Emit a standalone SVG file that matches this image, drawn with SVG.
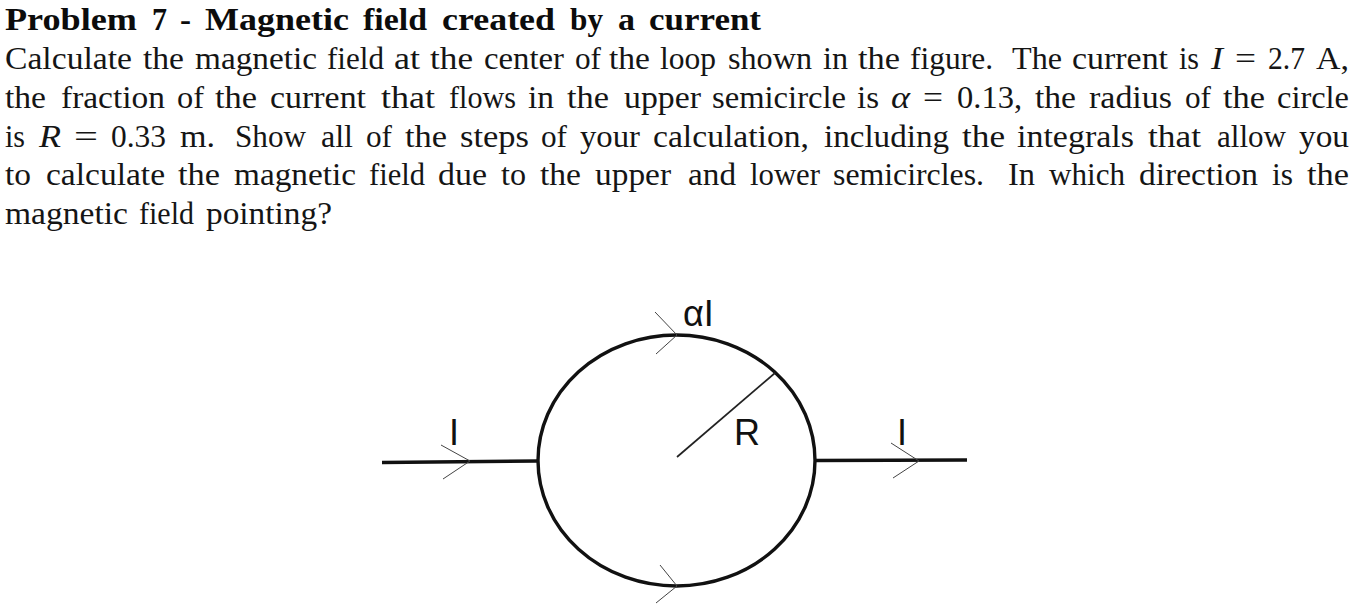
<svg xmlns="http://www.w3.org/2000/svg" width="1354" height="604" viewBox="0 0 1354 604">
<style>
.t{font-family:"Liberation Serif","Times New Roman",serif;font-size:32px;fill:#151515}
.b{font-weight:bold;fill:#0c0c0c}
.i{font-style:italic}
.l{font-family:"Liberation Sans",Arial,sans-serif;font-size:36px;fill:#111}
.w{fill:none;stroke:#111;stroke-width:3.4}
.r{fill:none;stroke:#222;stroke-width:1.7}
.a{fill:none;stroke:#444;stroke-width:1}
</style>
<rect width="1354" height="604" fill="#fff"/>
<g id="problem-text">
<text class="t b" y="30"><tspan x="5" textLength="132" lengthAdjust="spacingAndGlyphs">Problem</tspan> <tspan x="152" textLength="15" lengthAdjust="spacingAndGlyphs">7</tspan> <tspan x="180" textLength="11" lengthAdjust="spacingAndGlyphs">-</tspan> <tspan x="205" textLength="144" lengthAdjust="spacingAndGlyphs">Magnetic</tspan> <tspan x="363" textLength="64" lengthAdjust="spacingAndGlyphs">field</tspan> <tspan x="442" textLength="113" lengthAdjust="spacingAndGlyphs">created</tspan> <tspan x="570" textLength="33" lengthAdjust="spacingAndGlyphs">by</tspan> <tspan x="618" textLength="17" lengthAdjust="spacingAndGlyphs">a</tspan> <tspan x="649" textLength="112" lengthAdjust="spacingAndGlyphs">current</tspan></text>
<text class="t" y="69"><tspan x="5" textLength="127" lengthAdjust="spacingAndGlyphs">Calculate</tspan> <tspan x="143" textLength="41" lengthAdjust="spacingAndGlyphs">the</tspan> <tspan x="195" textLength="122" lengthAdjust="spacingAndGlyphs">magnetic</tspan> <tspan x="327" textLength="57" lengthAdjust="spacingAndGlyphs">field</tspan> <tspan x="394" textLength="26" lengthAdjust="spacingAndGlyphs">at</tspan> <tspan x="430" textLength="43" lengthAdjust="spacingAndGlyphs">the</tspan> <tspan x="484" textLength="80" lengthAdjust="spacingAndGlyphs">center</tspan> <tspan x="575" textLength="26" lengthAdjust="spacingAndGlyphs">of</tspan> <tspan x="609" textLength="41" lengthAdjust="spacingAndGlyphs">the</tspan> <tspan x="660" textLength="56" lengthAdjust="spacingAndGlyphs">loop</tspan> <tspan x="728" textLength="84" lengthAdjust="spacingAndGlyphs">shown</tspan> <tspan x="823" textLength="25" lengthAdjust="spacingAndGlyphs">in</tspan> <tspan x="858" textLength="42" lengthAdjust="spacingAndGlyphs">the</tspan> <tspan x="910" textLength="83" lengthAdjust="spacingAndGlyphs">figure.</tspan> <tspan x="1012" textLength="50" lengthAdjust="spacingAndGlyphs">The</tspan> <tspan x="1072" textLength="96" lengthAdjust="spacingAndGlyphs">current</tspan> <tspan x="1179" textLength="20" lengthAdjust="spacingAndGlyphs">is</tspan> <tspan class="i" x="1211" textLength="12" lengthAdjust="spacingAndGlyphs">I</tspan> <tspan x="1235" textLength="21" lengthAdjust="spacingAndGlyphs">=</tspan> <tspan x="1268" textLength="37" lengthAdjust="spacingAndGlyphs">2.7</tspan> <tspan x="1316" textLength="33" lengthAdjust="spacingAndGlyphs">A,</tspan></text>
<text class="t" y="108"><tspan x="5" textLength="41" lengthAdjust="spacingAndGlyphs">the</tspan> <tspan x="61" textLength="104" lengthAdjust="spacingAndGlyphs">fraction</tspan> <tspan x="177" textLength="27" lengthAdjust="spacingAndGlyphs">of</tspan> <tspan x="215" textLength="42" lengthAdjust="spacingAndGlyphs">the</tspan> <tspan x="270" textLength="96" lengthAdjust="spacingAndGlyphs">current</tspan> <tspan x="381" textLength="54" lengthAdjust="spacingAndGlyphs">that</tspan> <tspan x="449" textLength="67" lengthAdjust="spacingAndGlyphs">flows</tspan> <tspan x="528" textLength="26" lengthAdjust="spacingAndGlyphs">in</tspan> <tspan x="567" textLength="42" lengthAdjust="spacingAndGlyphs">the</tspan> <tspan x="624" textLength="77" lengthAdjust="spacingAndGlyphs">upper</tspan> <tspan x="712" textLength="134" lengthAdjust="spacingAndGlyphs">semicircle</tspan> <tspan x="857" textLength="22" lengthAdjust="spacingAndGlyphs">is</tspan> <tspan class="i" x="891" textLength="19" lengthAdjust="spacingAndGlyphs">α</tspan> <tspan x="923" textLength="20" lengthAdjust="spacingAndGlyphs">=</tspan> <tspan x="957" textLength="65" lengthAdjust="spacingAndGlyphs">0.13,</tspan> <tspan x="1035" textLength="41" lengthAdjust="spacingAndGlyphs">the</tspan> <tspan x="1089" textLength="83" lengthAdjust="spacingAndGlyphs">radius</tspan> <tspan x="1185" textLength="26" lengthAdjust="spacingAndGlyphs">of</tspan> <tspan x="1223" textLength="42" lengthAdjust="spacingAndGlyphs">the</tspan> <tspan x="1277" textLength="72" lengthAdjust="spacingAndGlyphs">circle</tspan></text>
<text class="t" y="147"><tspan x="5" textLength="20" lengthAdjust="spacingAndGlyphs">is</tspan> <tspan class="i" x="39" textLength="22" lengthAdjust="spacingAndGlyphs">R</tspan> <tspan x="74" textLength="24" lengthAdjust="spacingAndGlyphs">=</tspan> <tspan x="111" textLength="55" lengthAdjust="spacingAndGlyphs">0.33</tspan> <tspan x="180" textLength="35" lengthAdjust="spacingAndGlyphs">m.</tspan> <tspan x="235" textLength="71" lengthAdjust="spacingAndGlyphs">Show</tspan> <tspan x="321" textLength="32" lengthAdjust="spacingAndGlyphs">all</tspan> <tspan x="366" textLength="26" lengthAdjust="spacingAndGlyphs">of</tspan> <tspan x="405" textLength="42" lengthAdjust="spacingAndGlyphs">the</tspan> <tspan x="460" textLength="69" lengthAdjust="spacingAndGlyphs">steps</tspan> <tspan x="541" textLength="26" lengthAdjust="spacingAndGlyphs">of</tspan> <tspan x="580" textLength="60" lengthAdjust="spacingAndGlyphs">your</tspan> <tspan x="653" textLength="156" lengthAdjust="spacingAndGlyphs">calculation,</tspan> <tspan x="824" textLength="125" lengthAdjust="spacingAndGlyphs">including</tspan> <tspan x="962" textLength="43" lengthAdjust="spacingAndGlyphs">the</tspan> <tspan x="1017" textLength="117" lengthAdjust="spacingAndGlyphs">integrals</tspan> <tspan x="1148" textLength="53" lengthAdjust="spacingAndGlyphs">that</tspan> <tspan x="1217" textLength="69" lengthAdjust="spacingAndGlyphs">allow</tspan> <tspan x="1299" textLength="50" lengthAdjust="spacingAndGlyphs">you</tspan></text>
<text class="t" y="185"><tspan x="5" textLength="26" lengthAdjust="spacingAndGlyphs">to</tspan> <tspan x="46" textLength="119" lengthAdjust="spacingAndGlyphs">calculate</tspan> <tspan x="178" textLength="42" lengthAdjust="spacingAndGlyphs">the</tspan> <tspan x="234" textLength="122" lengthAdjust="spacingAndGlyphs">magnetic</tspan> <tspan x="369" textLength="56" lengthAdjust="spacingAndGlyphs">field</tspan> <tspan x="438" textLength="49" lengthAdjust="spacingAndGlyphs">due</tspan> <tspan x="501" textLength="25" lengthAdjust="spacingAndGlyphs">to</tspan> <tspan x="540" textLength="41" lengthAdjust="spacingAndGlyphs">the</tspan> <tspan x="595" textLength="76" lengthAdjust="spacingAndGlyphs">upper</tspan> <tspan x="688" textLength="48" lengthAdjust="spacingAndGlyphs">and</tspan> <tspan x="750" textLength="70" lengthAdjust="spacingAndGlyphs">lower</tspan> <tspan x="833" textLength="151" lengthAdjust="spacingAndGlyphs">semicircles.</tspan> <tspan x="1008" textLength="27" lengthAdjust="spacingAndGlyphs">In</tspan> <tspan x="1049" textLength="76" lengthAdjust="spacingAndGlyphs">which</tspan> <tspan x="1139" textLength="119" lengthAdjust="spacingAndGlyphs">direction</tspan> <tspan x="1272" textLength="21" lengthAdjust="spacingAndGlyphs">is</tspan> <tspan x="1307" textLength="42" lengthAdjust="spacingAndGlyphs">the</tspan></text>
<text class="t" y="224"><tspan x="5" textLength="123" lengthAdjust="spacingAndGlyphs">magnetic</tspan> <tspan x="139" textLength="55" lengthAdjust="spacingAndGlyphs">field</tspan> <tspan x="206" textLength="126" lengthAdjust="spacingAndGlyphs">pointing?</tspan></text>
</g>
<g id="loop"><ellipse class="w" cx="676.5" cy="460.5" rx="138.5" ry="125.5"/></g>
<g id="radius"><line class="r" x1="677" y1="457" x2="775" y2="373"/><text class="l" x="734" y="445">R</text></g>
<g id="connectors">
<line class="w" x1="382" y1="462.5" x2="538" y2="461"/>
<line class="w" x1="815" y1="460.5" x2="967" y2="460"/>
<polyline class="a" points="441,445 470,461 443,479"/>
<polyline class="a" points="891,443 919,461 893,478"/>
<polyline class="a" points="655,312 677,335 656,354"/>
<polyline class="a" points="660,565 677,586 656,603"/>
</g>
<g id="label-alpha-i"><text class="l" x="683" y="326">αI</text></g>
<g id="label-i-in"><text class="l" x="449" y="445">I</text></g>
<g id="label-i-out"><text class="l" x="897" y="445">I</text></g>
</svg>
